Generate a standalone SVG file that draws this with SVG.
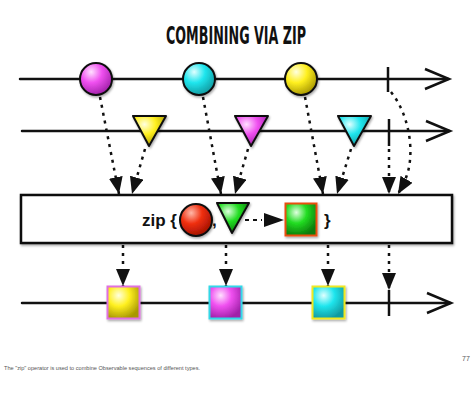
<svg xmlns="http://www.w3.org/2000/svg" width="474" height="411" viewBox="0 0 474 411">
<style>
.line{stroke:#111;stroke-width:2.5;fill:none;stroke-linecap:round}
.head{stroke:#111;stroke-width:2.5;fill:none;stroke-linejoin:miter}
.tick{stroke:#111;stroke-width:2.5}
.dot{stroke:#111;stroke-width:2.5;fill:none;stroke-dasharray:3 5}
.shape{stroke:#111;stroke-width:2;filter:url(#sh)}
.title{font-family:"DejaVu Sans Condensed","DejaVu Sans",sans-serif;font-weight:bold;font-size:24px;fill:#111}
.zip{font-family:"Liberation Sans",Arial,sans-serif;font-weight:bold;font-size:17px;fill:#111}
.foot{font-family:"Liberation Sans",Arial,sans-serif;font-size:5.6px;fill:#555}
</style>
<defs>
<filter id="sh" x="-30%" y="-30%" width="160%" height="160%">
<feDropShadow dx="1" dy="1.5" stdDeviation="1" flood-color="#000" flood-opacity="0.35"/>
</filter>
<marker id="ah" viewBox="0 0 17 14" refX="17" refY="7" markerWidth="17" markerHeight="14" markerUnits="userSpaceOnUse" orient="auto">
<path d="M0,0 L17,7 L0,14 z" fill="#111"/>
</marker>
<radialGradient id="gm" cx="35%" cy="28%" r="75%"><stop offset="0" stop-color="#ffe0ff"/><stop offset="0.45" stop-color="#f050f0"/><stop offset="1" stop-color="#a020a8"/></radialGradient>
<radialGradient id="gc" cx="35%" cy="28%" r="75%"><stop offset="0" stop-color="#e0ffff"/><stop offset="0.45" stop-color="#20e6ee"/><stop offset="1" stop-color="#109aa0"/></radialGradient>
<radialGradient id="gy" cx="35%" cy="28%" r="75%"><stop offset="0" stop-color="#ffffe0"/><stop offset="0.45" stop-color="#fff020"/><stop offset="1" stop-color="#a89800"/></radialGradient>
<radialGradient id="gr" cx="35%" cy="28%" r="75%"><stop offset="0" stop-color="#ffb8a8"/><stop offset="0.45" stop-color="#f03010"/><stop offset="1" stop-color="#a01000"/></radialGradient>
<radialGradient id="gg" cx="35%" cy="28%" r="75%"><stop offset="0" stop-color="#e0ffe0"/><stop offset="0.45" stop-color="#22dd22"/><stop offset="1" stop-color="#0a7a0a"/></radialGradient>
</defs>
<rect width="474" height="411" fill="#fff"/>
<text class="title" x="236" y="44" text-anchor="middle" textLength="140" lengthAdjust="spacingAndGlyphs">COMBINING VIA ZIP</text>

<g id="timeline1">
<line class="line" x1="20" y1="79" x2="448" y2="79"/>
<polyline class="head" points="425,69 449,79 425,89"/>
<line class="tick" x1="388" y1="67" x2="388" y2="92"/>
</g>
<g id="timeline2">
<line class="line" x1="22" y1="131" x2="449" y2="131"/>
<polyline class="head" points="426,121 450,131 426,141"/>
<line class="tick" x1="389" y1="119" x2="389" y2="146"/>
</g>
<g id="timeline3">
<line class="line" x1="22" y1="303" x2="450" y2="303"/>
<polyline class="head" points="427,293 451,303 427,313"/>
<line class="tick" x1="389" y1="290" x2="389" y2="316"/>
</g>

<g id="connectors">
<line class="dot" x1="100" y1="97" x2="119" y2="194" marker-end="url(#ah)"/>
<line class="dot" x1="145" y1="149" x2="132" y2="194" marker-end="url(#ah)"/>
<line class="dot" x1="203" y1="97" x2="221" y2="194" marker-end="url(#ah)"/>
<line class="dot" x1="248" y1="149" x2="235" y2="194" marker-end="url(#ah)"/>
<line class="dot" x1="305" y1="97" x2="323" y2="194" marker-end="url(#ah)"/>
<line class="dot" x1="351" y1="149" x2="337" y2="194" marker-end="url(#ah)"/>
<path class="dot" d="M391,92 C407,112 412,140 410,160 C409,172 405,182 398,194" marker-end="url(#ah)"/>
<line class="dot" x1="389" y1="149" x2="389" y2="194" marker-end="url(#ah)"/>
<line class="dot" x1="123" y1="245" x2="123" y2="286" marker-end="url(#ah)"/>
<line class="dot" x1="226" y1="245" x2="226" y2="286" marker-end="url(#ah)"/>
<line class="dot" x1="328" y1="245" x2="328" y2="286" marker-end="url(#ah)"/>
<line class="dot" x1="389" y1="245" x2="389" y2="290" marker-end="url(#ah)"/>
</g>

<g id="circle-magenta"><circle class="shape" cx="96" cy="79" r="16" fill="url(#gm)"/></g>
<g id="circle-cyan"><circle class="shape" cx="199" cy="79" r="16" fill="url(#gc)"/></g>
<g id="circle-yellow"><circle class="shape" cx="301" cy="79" r="16" fill="url(#gy)"/></g>

<g id="tri-yellow"><polygon class="shape" points="133,116 166,116 149,146" fill="url(#gy)" stroke-linejoin="round"/></g>
<g id="tri-magenta"><polygon class="shape" points="235,116 268,116 251,146" fill="url(#gm)" stroke-linejoin="round"/></g>
<g id="tri-cyan"><polygon class="shape" points="338,116 371,116 354,146" fill="url(#gc)" stroke-linejoin="round"/></g>

<g id="zip-box">
<rect x="21" y="195" width="431" height="48" fill="#fff" stroke="#111" stroke-width="2.5" filter="url(#sh)"/>
<text class="zip" x="142" y="226">zip {</text>
<circle class="shape" cx="196" cy="220" r="16" fill="url(#gr)"/>
<text class="zip" x="212" y="226">,</text>
<polygon class="shape" points="217,203 249,203 232,233" fill="url(#gg)" stroke-linejoin="round"/>
<line x1="245" y1="220" x2="262" y2="220" stroke="#111" stroke-width="2" stroke-dasharray="4 4"/>
<path d="M264,213 L284,220 L264,227 z" fill="#111"/>
<rect x="285.5" y="203.5" width="31" height="32" fill="url(#gg)" stroke="#e85010" stroke-width="2" filter="url(#sh)"/>
<text class="zip" x="324" y="226">}</text>
</g>

<g id="square-yellow"><rect x="107.5" y="286.5" width="32" height="32" fill="url(#gy)" stroke="#e070e0" stroke-width="2" filter="url(#sh)"/></g>
<g id="square-magenta"><rect x="209.5" y="286.5" width="32" height="32" fill="url(#gm)" stroke="#30d8e8" stroke-width="2" filter="url(#sh)"/></g>
<g id="square-cyan"><rect x="312.5" y="286.5" width="32" height="32" fill="url(#gc)" stroke="#f0e820" stroke-width="2" filter="url(#sh)"/></g>

<text class="foot" x="4" y="370" textLength="196" lengthAdjust="spacingAndGlyphs">The "zip" operator is used to combine Observable sequences of different types.</text>
<text class="foot" x="462" y="361" style="font-size:7px">77</text>
</svg>
